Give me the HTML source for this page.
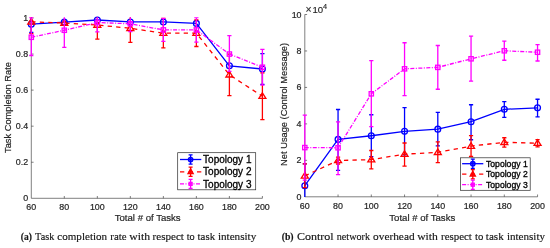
<!DOCTYPE html>
<html><head><meta charset="utf-8"><title>Figure</title>
<style>html,body{margin:0;padding:0;background:#fff}svg{display:block}</style>
</head><body>
<svg width="550" height="248" viewBox="0 0 550 248" font-family="'Liberation Sans', Arial, sans-serif">
<defs><clipPath id="cl"><rect x="28" y="17.3" width="240" height="181.1"/></clipPath><clipPath id="cr"><rect x="300" y="13.8" width="245" height="183.1"/></clipPath></defs>
<rect width="550" height="248" fill="#fff"/>
<g stroke="#3c3c3c" stroke-width="0.65" fill="none">
<path d="M31.3 18V198.3H262.4M64.31 198.3v-2.3M97.33 198.3v-2.3M130.34 198.3v-2.3M163.36 198.3v-2.3M196.37 198.3v-2.3M229.39 198.3v-2.3M262.4 198.3v-2.3M31.3 162.24h2.3M31.3 126.18h2.3M31.3 90.12h2.3M31.3 54.06h2.3M31.3 18h2.3"/>
</g>
<g font-size="8.9" fill="#262626" stroke="#262626" stroke-width="0.2">
<text x="31.3" y="210.4" text-anchor="middle">60</text>
<text x="64.31" y="210.4" text-anchor="middle">80</text>
<text x="97.33" y="210.4" text-anchor="middle">100</text>
<text x="130.34" y="210.4" text-anchor="middle">120</text>
<text x="163.36" y="210.4" text-anchor="middle">140</text>
<text x="196.37" y="210.4" text-anchor="middle">160</text>
<text x="229.39" y="210.4" text-anchor="middle">180</text>
<text x="262.4" y="210.4" text-anchor="middle">200</text>
<text x="28.2" y="201.1" text-anchor="end">0</text>
<text x="28.2" y="165.04" text-anchor="end">0.2</text>
<text x="28.2" y="128.98" text-anchor="end">0.4</text>
<text x="28.2" y="92.92" text-anchor="end">0.6</text>
<text x="28.2" y="56.86" text-anchor="end">0.8</text>
<text x="28.2" y="20.8" text-anchor="end">1</text>
</g>
<text x="147.7" y="221.4" font-size="9.6" fill="#262626" stroke="#262626" stroke-width="0.2" text-anchor="middle">Total # of Tasks</text>
<text transform="translate(11.3 107.5) rotate(-90)" font-size="9.299999999999999" fill="#262626" stroke="#262626" stroke-width="0.2" text-anchor="middle">Task Completion Rate</text>
<g stroke="#3c3c3c" stroke-width="0.65" fill="none">
<path d="M304.8 14.5V196.8H537.55M338.05 196.8v-2.3M371.3 196.8v-2.3M404.55 196.8v-2.3M437.8 196.8v-2.3M471.05 196.8v-2.3M504.3 196.8v-2.3M537.55 196.8v-2.3M304.8 160.34h2.3M304.8 123.88h2.3M304.8 87.42h2.3M304.8 50.96h2.3M304.8 14.5h2.3"/>
</g>
<g font-size="8.9" fill="#262626" stroke="#262626" stroke-width="0.2">
<text x="304.8" y="209.2" text-anchor="middle">60</text>
<text x="338.05" y="209.2" text-anchor="middle">80</text>
<text x="371.3" y="209.2" text-anchor="middle">100</text>
<text x="404.55" y="209.2" text-anchor="middle">120</text>
<text x="437.8" y="209.2" text-anchor="middle">140</text>
<text x="471.05" y="209.2" text-anchor="middle">160</text>
<text x="504.3" y="209.2" text-anchor="middle">180</text>
<text x="537.55" y="209.2" text-anchor="middle">200</text>
<text x="301.5" y="199.87" text-anchor="end">0</text>
<text x="301.5" y="163.41" text-anchor="end">2</text>
<text x="301.5" y="126.95" text-anchor="end">4</text>
<text x="301.5" y="90.49" text-anchor="end">6</text>
<text x="301.5" y="54.03" text-anchor="end">8</text>
<text x="301.5" y="17.57" text-anchor="end">10</text>
</g>
<text x="422.3" y="220.9" font-size="9.6" fill="#262626" stroke="#262626" stroke-width="0.2" text-anchor="middle">Total # of Tasks</text>
<text transform="translate(287.2 104.4) rotate(-90)" font-size="9.299999999999999" fill="#262626" stroke="#262626" stroke-width="0.2" text-anchor="middle">Net Usage (Control Message)</text>
<text y="12.7" font-size="9.6" fill="#262626" stroke="#262626" stroke-width="0.15"><tspan x="305.4" y="13.3" font-size="10.4">×</tspan><tspan x="312.4" y="12.7">10</tspan><tspan x="323" y="9.1" font-size="7.3">4</tspan></text>
<g clip-path="url(#cl)" stroke="#0000ff" stroke-width="1.3" fill="none">
<path d="M31.3 32.42V15.84M29.2 32.42H33.4M29.2 15.84H33.4"/>
<path d="M262.4 84.35V53.7M260.3 84.35H264.5M260.3 53.7H264.5"/>
<polyline points="31.3,24.13 64.31,22.15 97.33,19.98 130.34,21.97 163.36,21.97 196.37,23.41 229.39,65.78 262.4,69.02"/>
</g>
<g stroke="#0000ff" stroke-width="1.3" fill="none">
<circle cx="31.3" cy="24.13" r="2.9" fill="none"/>
<circle cx="64.31" cy="22.15" r="2.9" fill="none"/>
<circle cx="97.33" cy="19.98" r="2.9" fill="none"/>
<circle cx="130.34" cy="21.97" r="2.9" fill="none"/>
<circle cx="163.36" cy="21.97" r="2.9" fill="none"/>
<circle cx="196.37" cy="23.41" r="2.9" fill="none"/>
<circle cx="229.39" cy="65.78" r="2.9" fill="none"/>
<circle cx="262.4" cy="69.02" r="2.9" fill="none"/>
</g>
<g clip-path="url(#cl)" stroke="#ff0000" stroke-width="1.3" fill="none">
<path d="M31.3 33.69V9.89M29.2 33.69H33.4M29.2 9.89H33.4"/>
<path d="M97.33 39.1V10.97M95.23 39.1H99.43M95.23 10.97H99.43"/>
<path d="M130.34 42.34V14.21M128.24 42.34H132.44M128.24 14.21H132.44"/>
<path d="M163.36 47.93V18.36M161.26 47.93H165.46M161.26 18.36H165.46"/>
<path d="M196.37 46.49V19.8M194.27 46.49H198.47M194.27 19.8H198.47"/>
<path d="M229.39 95.53V54.06M227.29 95.53H231.49M227.29 54.06H231.49"/>
<path d="M262.4 119.69V72.81M260.3 119.69H264.5M260.3 72.81H264.5"/>
<polyline points="31.3,21.79 64.31,23.05 97.33,25.03 130.34,28.28 163.36,33.15 196.37,33.15 229.39,74.79 262.4,96.25" stroke-dasharray="4.3 4.2"/>
</g>
<g stroke="#ff0000" stroke-width="1.3" fill="none">
<path d="M31.3 18.39L34.8 23.99L27.8 23.99Z" fill="none"/>
<path d="M64.31 19.65L67.81 25.25L60.81 25.25Z" fill="none"/>
<path d="M97.33 21.63L100.83 27.23L93.83 27.23Z" fill="none"/>
<path d="M130.34 24.88L133.84 30.48L126.84 30.48Z" fill="none"/>
<path d="M163.36 29.75L166.86 35.35L159.86 35.35Z" fill="none"/>
<path d="M196.37 29.75L199.87 35.35L192.87 35.35Z" fill="none"/>
<path d="M229.39 71.39L232.89 76.99L225.89 76.99Z" fill="none"/>
<path d="M262.4 92.85L265.9 98.45L258.9 98.45Z" fill="none"/>
</g>
<g clip-path="url(#cl)" stroke="#ff00ff" stroke-width="1.3" fill="none">
<path d="M31.3 55.5V17.64M29.2 55.5H33.4M29.2 17.64H33.4"/>
<path d="M64.31 47.39V13.13M62.21 47.39H66.41M62.21 13.13H66.41"/>
<path d="M97.33 31.88V13.13M95.23 31.88H99.43M95.23 13.13H99.43"/>
<path d="M130.34 31.7V15.84M128.24 31.7H132.44M128.24 15.84H132.44"/>
<path d="M163.36 41.44V18.36M161.26 41.44H165.46M161.26 18.36H165.46"/>
<path d="M196.37 42.16V17.64M194.27 42.16H198.47M194.27 17.64H198.47"/>
<path d="M229.39 71.37V35.67M227.29 71.37H231.49M227.29 35.67H231.49"/>
<path d="M262.4 85.07V49.37M260.3 85.07H264.5M260.3 49.37H264.5"/>
<polyline points="31.3,37.29 64.31,30.26 97.33,22.51 130.34,23.77 163.36,29.9 196.37,29.9 229.39,54.06 262.4,67.22" stroke-dasharray="4 1.5 1 1.5"/>
</g>
<g stroke="#ff00ff" stroke-width="1.3" fill="none">
<rect x="29.15" y="35.14" width="4.3" height="4.3" fill="none"/>
<rect x="62.16" y="28.11" width="4.3" height="4.3" fill="none"/>
<rect x="95.18" y="20.36" width="4.3" height="4.3" fill="none"/>
<rect x="128.19" y="21.62" width="4.3" height="4.3" fill="none"/>
<rect x="161.21" y="27.75" width="4.3" height="4.3" fill="none"/>
<rect x="194.22" y="27.75" width="4.3" height="4.3" fill="none"/>
<rect x="227.24" y="51.91" width="4.3" height="4.3" fill="none"/>
<rect x="260.25" y="65.07" width="4.3" height="4.3" fill="none"/>
</g>
<g clip-path="url(#cr)" stroke="#0000ff" stroke-width="1.3" fill="none">
<path d="M304.8 205.92V163.8M302.7 205.92H306.9M302.7 163.8H306.9"/>
<path d="M338.05 170.37V109.48M335.95 170.37H340.15M335.95 109.48H340.15"/>
<path d="M371.3 156.69V114.77M369.2 156.69H373.4M369.2 114.77H373.4"/>
<path d="M404.55 154.87V107.66M402.45 154.87H406.65M402.45 107.66H406.65"/>
<path d="M437.8 145.94V112.4M435.7 145.94H439.9M435.7 112.4H439.9"/>
<path d="M471.05 139.74V104.74M468.95 139.74H473.15M468.95 104.74H473.15"/>
<path d="M504.3 117.32V101.64M502.2 117.32H506.4M502.2 101.64H506.4"/>
<path d="M537.55 116.95V99.27M535.45 116.95H539.65M535.45 99.27H539.65"/>
<polyline points="304.8,185.68 338.05,139.38 371.3,135.73 404.55,131.35 437.8,129.17 471.05,121.69 504.3,109.3 537.55,107.84"/>
</g>
<g stroke="#0000ff" stroke-width="1.3" fill="none">
<circle cx="304.8" cy="185.68" r="2.9" fill="none"/>
<circle cx="338.05" cy="139.38" r="2.9" fill="none"/>
<circle cx="371.3" cy="135.73" r="2.9" fill="none"/>
<circle cx="404.55" cy="131.35" r="2.9" fill="none"/>
<circle cx="437.8" cy="129.17" r="2.9" fill="none"/>
<circle cx="471.05" cy="121.69" r="2.9" fill="none"/>
<circle cx="504.3" cy="109.3" r="2.9" fill="none"/>
<circle cx="537.55" cy="107.84" r="2.9" fill="none"/>
</g>
<g clip-path="url(#cr)" stroke="#ff0000" stroke-width="1.3" fill="none">
<path d="M304.8 187.69V163.8M302.7 187.69H306.9M302.7 163.8H306.9"/>
<path d="M338.05 163.99V157.06M335.95 163.99H340.15M335.95 157.06H340.15"/>
<path d="M371.3 168.91V150.5M369.2 168.91H373.4M369.2 150.5H373.4"/>
<path d="M404.55 166.17V143.02M402.45 166.17H406.65M402.45 143.02H406.65"/>
<path d="M437.8 162.71V141.93M435.7 162.71H439.9M435.7 141.93H439.9"/>
<path d="M471.05 156.51V135.55M468.95 156.51H473.15M468.95 135.55H473.15"/>
<path d="M504.3 147.21V137.73M502.2 147.21H506.4M502.2 137.73H506.4"/>
<path d="M537.55 146.85V139.56M535.45 146.85H539.65M535.45 139.56H539.65"/>
<polyline points="304.8,175.84 338.05,160.52 371.3,159.61 404.55,154.14 437.8,152.32 471.05,146.12 504.3,142.29 537.55,143.2" stroke-dasharray="4.3 4.2"/>
</g>
<g stroke="#ff0000" stroke-width="1.3" fill="none">
<path d="M304.8 172.44L308.3 178.04L301.3 178.04Z" fill="none"/>
<path d="M338.05 157.12L341.55 162.72L334.55 162.72Z" fill="none"/>
<path d="M371.3 156.21L374.8 161.81L367.8 161.81Z" fill="none"/>
<path d="M404.55 150.74L408.05 156.34L401.05 156.34Z" fill="none"/>
<path d="M437.8 148.92L441.3 154.52L434.3 154.52Z" fill="none"/>
<path d="M471.05 142.72L474.55 148.32L467.55 148.32Z" fill="none"/>
<path d="M504.3 138.89L507.8 144.49L500.8 144.49Z" fill="none"/>
<path d="M537.55 139.8L541.05 145.4L534.05 145.4Z" fill="none"/>
</g>
<g clip-path="url(#cr)" stroke="#ff00ff" stroke-width="1.3" fill="none">
<path d="M304.8 180.03V115.13M302.7 180.03H306.9M302.7 115.13H306.9"/>
<path d="M338.05 174.56V121.87M335.95 174.56H340.15M335.95 121.87H340.15"/>
<path d="M371.3 126.61V60.62M369.2 126.61H373.4M369.2 60.62H373.4"/>
<path d="M404.55 95.62V42.76M402.45 95.62H406.65M402.45 42.76H406.65"/>
<path d="M437.8 89.24V45.49M435.7 89.24H439.9M435.7 45.49H439.9"/>
<path d="M471.05 81.04V36.19M468.95 81.04H473.15M468.95 36.19H473.15"/>
<path d="M504.3 60.26V41.12M502.2 60.26H506.4M502.2 41.12H506.4"/>
<path d="M537.55 60.99V44.58M535.45 60.99H539.65M535.45 44.58H539.65"/>
<polyline points="304.8,147.58 338.05,147.76 371.3,93.8 404.55,68.83 437.8,67.37 471.05,58.8 504.3,50.78 537.55,52.24" stroke-dasharray="4 1.5 1 1.5"/>
</g>
<g stroke="#ff00ff" stroke-width="1.3" fill="none">
<rect x="302.65" y="145.43" width="4.3" height="4.3" fill="none"/>
<rect x="335.9" y="145.61" width="4.3" height="4.3" fill="none"/>
<rect x="369.15" y="91.65" width="4.3" height="4.3" fill="none"/>
<rect x="402.4" y="66.68" width="4.3" height="4.3" fill="none"/>
<rect x="435.65" y="65.22" width="4.3" height="4.3" fill="none"/>
<rect x="468.9" y="56.65" width="4.3" height="4.3" fill="none"/>
<rect x="502.15" y="48.63" width="4.3" height="4.3" fill="none"/>
<rect x="535.4" y="50.09" width="4.3" height="4.3" fill="none"/>
</g>
<rect x="177.7" y="152.7" width="78.0" height="37.10000000000002" fill="#fff" stroke="#2a2a2a" stroke-width="0.7"/>
<g stroke="#0000ff" stroke-width="1.3" fill="none">
<path d="M180 159.5H201.3"/>
<path d="M190.6 154.9V164.1M188.6 154.9H192.6M188.6 164.1H192.6"/>
<circle cx="190.6" cy="159.5" r="2.2" fill="#0000ff" fill-opacity="0.55"/>
</g>
<text x="203.1" y="163.1" font-size="10.0" fill="#000" stroke="#000" stroke-width="0.3">Topology 1</text>
<g stroke="#ff0000" stroke-width="1.3" fill="none">
<path d="M180 171.8H201.3" stroke-dasharray="4.3 4.2"/>
<path d="M190.6 167.20000000000002V176.4M188.6 167.20000000000002H192.6M188.6 176.4H192.6"/>
<path d="M190.6 168.8L193.2 173.60000000000002L188.0 173.60000000000002Z" fill="#ff0000" fill-opacity="0.8"/>
</g>
<text x="203.1" y="175.4" font-size="10.0" fill="#000" stroke="#000" stroke-width="0.3">Topology 2</text>
<g stroke="#ff00ff" stroke-width="1.3" fill="none">
<path d="M180 183.9H201.3" stroke-dasharray="4 1.5 1 1.5"/>
<path d="M190.6 179.3V188.5M188.6 179.3H192.6M188.6 188.5H192.6"/>
<rect x="189.1" y="182.4" width="3" height="3" fill="#ff00ff" fill-opacity="0.6"/>
</g>
<text x="203.1" y="187.5" font-size="10.0" fill="#000" stroke="#000" stroke-width="0.3">Topology 3</text>
<rect x="460.4" y="157.8" width="69.80000000000007" height="32.5" fill="#fff" stroke="#2a2a2a" stroke-width="0.7"/>
<g stroke="#0000ff" stroke-width="1.3" fill="none">
<path d="M462.1 163.7H483.3"/>
<path d="M472.8 159.1V168.29999999999998M470.8 159.1H474.8M470.8 168.29999999999998H474.8"/>
<circle cx="472.8" cy="163.7" r="2.2" fill="#0000ff" fill-opacity="0.55"/>
</g>
<text x="486.0" y="166.81" font-size="8.65" fill="#000" stroke="#000" stroke-width="0.3">Topology 1</text>
<g stroke="#ff0000" stroke-width="1.3" fill="none">
<path d="M462.1 174.2H483.3" stroke-dasharray="4.3 4.2"/>
<path d="M472.8 169.6V178.79999999999998M470.8 169.6H474.8M470.8 178.79999999999998H474.8"/>
<path d="M472.8 171.2L475.40000000000003 176.0L470.2 176.0Z" fill="#ff0000" fill-opacity="0.8"/>
</g>
<text x="486.0" y="177.31" font-size="8.65" fill="#000" stroke="#000" stroke-width="0.3">Topology 2</text>
<g stroke="#ff00ff" stroke-width="1.3" fill="none">
<path d="M462.1 184.7H483.3" stroke-dasharray="4 1.5 1 1.5"/>
<path d="M472.8 180.1V189.29999999999998M470.8 180.1H474.8M470.8 189.29999999999998H474.8"/>
<rect x="471.3" y="183.2" width="3" height="3" fill="#ff00ff" fill-opacity="0.6"/>
</g>
<text x="486.0" y="187.81" font-size="8.65" fill="#000" stroke="#000" stroke-width="0.3">Topology 3</text>
<g font-family="'Liberation Serif', 'DejaVu Serif', serif" font-size="10.8" fill="#151515" stroke="#151515" stroke-width="0.15">
<text x="20.8" y="239.5" textLength="11.1" lengthAdjust="spacingAndGlyphs" font-weight="bold">(a)</text>
<text x="35.1" y="239.5" textLength="19.2" lengthAdjust="spacingAndGlyphs">Task</text>
<text x="57.3" y="239.5" textLength="49.8" lengthAdjust="spacingAndGlyphs">completion</text>
<text x="110.3" y="239.5" textLength="16.3" lengthAdjust="spacingAndGlyphs">rate</text>
<text x="129.3" y="239.5" textLength="20.8" lengthAdjust="spacingAndGlyphs">with</text>
<text x="152.6" y="239.5" textLength="31.3" lengthAdjust="spacingAndGlyphs">respect</text>
<text x="186.7" y="239.5" textLength="8" lengthAdjust="spacingAndGlyphs">to</text>
<text x="197.5" y="239.5" textLength="17.6" lengthAdjust="spacingAndGlyphs">task</text>
<text x="217.9" y="239.5" textLength="38.4" lengthAdjust="spacingAndGlyphs">intensity</text>
<text x="281.7" y="239.7" textLength="11.9" lengthAdjust="spacingAndGlyphs" font-weight="bold">(b)</text>
<text x="297" y="239.7" textLength="36.7" lengthAdjust="spacingAndGlyphs">Control</text>
<text x="336.8" y="239.7" textLength="33.2" lengthAdjust="spacingAndGlyphs">network</text>
<text x="373.1" y="239.7" textLength="41.5" lengthAdjust="spacingAndGlyphs">overhead</text>
<text x="417.2" y="239.7" textLength="20.7" lengthAdjust="spacingAndGlyphs">with</text>
<text x="441" y="239.7" textLength="30.9" lengthAdjust="spacingAndGlyphs">respect</text>
<text x="474.9" y="239.7" textLength="8.4" lengthAdjust="spacingAndGlyphs">to</text>
<text x="485.8" y="239.7" textLength="17.9" lengthAdjust="spacingAndGlyphs">task</text>
<text x="506.9" y="239.7" textLength="38.2" lengthAdjust="spacingAndGlyphs">intensity</text>
</g>
</svg>
</body></html>
